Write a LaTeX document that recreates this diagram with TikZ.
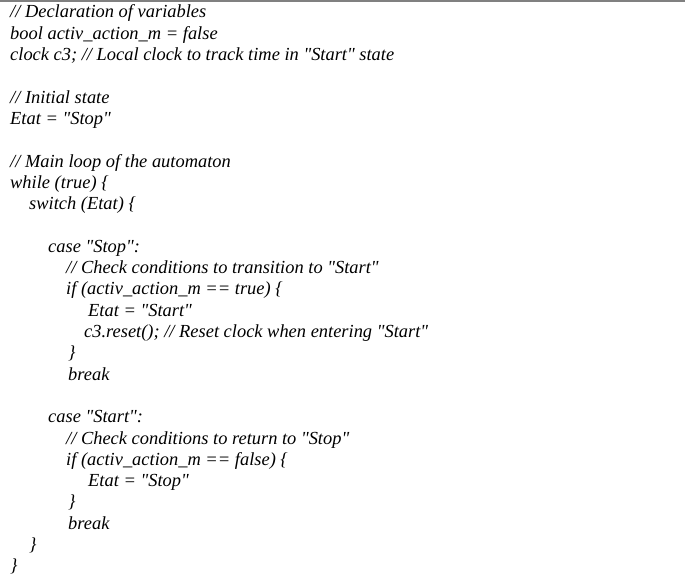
\documentclass[tikz,border=0pt]{standalone}
\usepackage{fontspec}
\setmainfont{Liberation Serif}
\newcommand{\qq}{\textquotedbl}
\begin{document}
\begin{tikzpicture}[x=1bp,y=-1bp,code/.style={anchor=base west,inner sep=0pt,font=\fontsize{18.5}{20}\selectfont\itshape}]
\useasboundingbox (0,0) rectangle (685,582);
\draw[gray,line width=1.2bp] (0,1) -- (685,1);
\foreach \i/\x/\t in {
0/10/{// Declaration of variables},
1/10/{bool activ\_action\_m = false},
2/10/{clock c3; // Local clock to track time in \qq Start\qq{} state},
4/10/{// Initial state},
5/10/{Etat = \qq Stop\qq},
7/10/{// Main loop of the automaton},
8/10/{while (true) \{},
9/29/{switch (Etat) \{},
11/48/{case \qq Stop\qq:},
12/66/{// Check conditions to transition to \qq Start\qq},
13/66/{if (activ\_action\_m == true) \{},
14/88/{Etat = \qq Start\qq},
15/84/{c3.reset(); // Reset clock when entering \qq Start\qq},
16/68/{\}},
17/68/{break},
19/48/{case \qq Start\qq:},
20/66/{// Check conditions to return to \qq Stop\qq},
21/66/{if (activ\_action\_m == false) \{},
22/88/{Etat = \qq Stop\qq},
23/68/{\}},
24/68/{break},
25/29/{\}},
26/10/{\}}}
{\node[code] (l\i) at (\x,{18+21.3*\i}) {\t};}
\end{tikzpicture}
\end{document}
